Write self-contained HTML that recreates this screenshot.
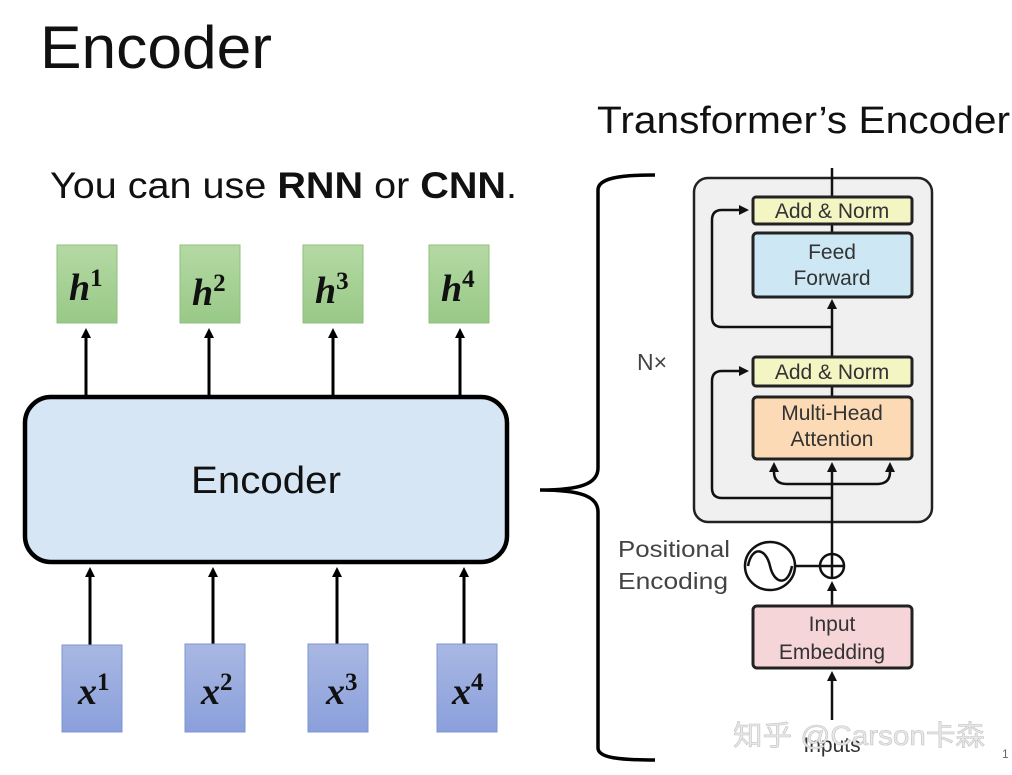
<!DOCTYPE html>
<html><head><meta charset="utf-8"><style>
html,body{margin:0;padding:0;background:#fff;}
svg{display:block;}
</style></head><body>
<svg width="1012" height="775" viewBox="0 0 1012 775" xmlns="http://www.w3.org/2000/svg" font-family="Liberation Sans, sans-serif">
<defs>
<marker id="a" markerWidth="10" markerHeight="10" refX="5" refY="5" orient="auto" markerUnits="userSpaceOnUse"><path d="M0,0 L10,5 L0,10 Z" fill="#000"/></marker>
<marker id="b" markerWidth="10" markerHeight="10" refX="5" refY="5" orient="auto" markerUnits="userSpaceOnUse"><path d="M0,0 L10,5 L0,10 Z" fill="#111"/></marker>
<linearGradient id="gx" x1="0" y1="0" x2="0" y2="1"><stop offset="0" stop-color="#a9b8e2"/><stop offset="1" stop-color="#8a9fdc"/></linearGradient>
<linearGradient id="gh" x1="0" y1="0" x2="0" y2="1"><stop offset="0" stop-color="#b5d9a4"/><stop offset="1" stop-color="#98c987"/></linearGradient>
</defs>
<text x="40" y="68" font-size="60" textLength="232" lengthAdjust="spacingAndGlyphs" fill="#111">Encoder</text>
<text x="597" y="133" font-size="38" textLength="413" lengthAdjust="spacingAndGlyphs" fill="#111">Transformer’s Encoder</text>
<text x="50" y="198" font-size="37" textLength="467" lengthAdjust="spacingAndGlyphs" fill="#111">You can use <tspan font-weight="bold">RNN</tspan> or <tspan font-weight="bold">CNN</tspan>.</text>

<g stroke="#8fbf7c" stroke-width="1" fill="url(#gh)">
<rect x="57" y="245" width="60" height="78"/><rect x="180" y="245" width="60" height="78"/>
<rect x="303" y="245" width="60" height="78"/><rect x="429" y="245" width="60" height="78"/>
</g>
<g font-family="Liberation Serif, serif" font-style="italic" font-weight="bold" font-size="38" fill="#111">
<text x="69" y="300">h<tspan font-size="25" font-style="normal" dy="-14">1</tspan></text>
<text x="192" y="305">h<tspan font-size="25" font-style="normal" dy="-14">2</tspan></text>
<text x="315" y="303">h<tspan font-size="25" font-style="normal" dy="-14">3</tspan></text>
<text x="441" y="301">h<tspan font-size="25" font-style="normal" dy="-14">4</tspan></text>
</g>
<g stroke="#000" stroke-width="3" marker-end="url(#a)">
<line x1="86" y1="396" x2="86" y2="333"/><line x1="209" y1="396" x2="209" y2="333"/>
<line x1="333" y1="396" x2="333" y2="333"/><line x1="460" y1="396" x2="460" y2="333"/>
<line x1="90" y1="645" x2="90" y2="572"/><line x1="213" y1="645" x2="213" y2="572"/>
<line x1="337" y1="645" x2="337" y2="572"/><line x1="464" y1="645" x2="464" y2="572"/>
</g>
<rect x="25" y="397" width="482" height="165" rx="26" fill="#d6e6f5" stroke="#000" stroke-width="4.5"/>
<text x="266" y="493" font-size="38" text-anchor="middle" textLength="150" lengthAdjust="spacingAndGlyphs" fill="#111">Encoder</text>

<g stroke="#7f94d0" stroke-width="1" fill="url(#gx)">
<rect x="62" y="645" width="60" height="87"/><rect x="185" y="644" width="60" height="88"/>
<rect x="308" y="644" width="60" height="88"/><rect x="437" y="644" width="60" height="88"/>
</g>
<g font-family="Liberation Serif, serif" font-style="italic" font-weight="bold" font-size="38" fill="#111">
<text x="78" y="704">x<tspan font-size="25" font-style="normal" dy="-14">1</tspan></text>
<text x="201" y="704">x<tspan font-size="25" font-style="normal" dy="-14">2</tspan></text>
<text x="326" y="704">x<tspan font-size="25" font-style="normal" dy="-14">3</tspan></text>
<text x="452" y="704">x<tspan font-size="25" font-style="normal" dy="-14">4</tspan></text>
</g>

<path d="M655,175 C620,175 598,178 598,190 L598,468 C598,484 580,490 540,490 C580,490 598,496 598,512 L598,748 C598,758 620,760 655,760" fill="none" stroke="#000" stroke-width="3.5"/>

<rect x="694" y="178" width="238" height="344" rx="14" fill="#f0f0f0" stroke="#222" stroke-width="2.5"/>
<g stroke="#111" stroke-width="2.5" fill="none">
<line x1="832" y1="168" x2="832" y2="197"/>
<line x1="832" y1="224" x2="832" y2="233"/>
<line x1="832" y1="386" x2="832" y2="397"/>
<line x1="832" y1="554" x2="832" y2="467" marker-end="url(#b)"/>
<line x1="832" y1="357" x2="832" y2="304" marker-end="url(#b)"/>
<path d="M832,327 L722,327 Q712,327 712,317 L712,220 Q712,210 722,210 L744,210" marker-end="url(#b)"/>
<path d="M832,498 L722,498 Q712,498 712,488 L712,381 Q712,371 722,371 L744,371" marker-end="url(#b)"/>
<path d="M832,484 L787,484 Q774,484 774,472 L774,467" marker-end="url(#b)"/>
<path d="M832,484 L877,484 Q890,484 890,472 L890,467" marker-end="url(#b)"/>
<line x1="832" y1="606" x2="832" y2="586" marker-end="url(#b)"/>
<line x1="832" y1="720" x2="832" y2="676" marker-end="url(#b)"/>
<line x1="795" y1="566" x2="820" y2="566"/>
<circle cx="832" cy="566" r="12"/>
<line x1="820" y1="566" x2="844" y2="566"/><line x1="832" y1="554" x2="832" y2="578"/>
<ellipse cx="770" cy="566" rx="25" ry="24"/>
<path d="M748,566 C752,545 766,548 770,566 C774,584 788,587 792,566"/>
</g>
<g stroke="#222" stroke-width="3">
<rect x="753" y="197" width="159" height="27" rx="3" fill="#f3f5c3"/>
<rect x="753" y="233" width="159" height="64" rx="4" fill="#cde8f4"/>
<rect x="753" y="357" width="159" height="29" rx="3" fill="#f3f5c3"/>
<rect x="753" y="397" width="159" height="62" rx="4" fill="#fbdab5"/>
<rect x="753" y="606" width="159" height="62" rx="4" fill="#f6d5d8"/>
</g>
<g font-size="21" fill="#333" text-anchor="middle">
<text x="832" y="218">Add &amp; Norm</text>
<text x="832" y="259">Feed</text><text x="832" y="285">Forward</text>
<text x="832" y="379">Add &amp; Norm</text>
<text x="832" y="420">Multi-Head</text><text x="832" y="446">Attention</text>
<text x="832" y="631">Input</text><text x="832" y="659">Embedding</text>
<text x="832" y="752">Inputs</text>
</g>
<g font-size="23" fill="#444">
<text x="637" y="370">N×</text>
<text x="618" y="557" textLength="112" lengthAdjust="spacingAndGlyphs">Positional</text>
<text x="618" y="589" textLength="110" lengthAdjust="spacingAndGlyphs">Encoding</text>
</g>
<text x="733" y="745" font-size="28" fill="#e8e8e8" stroke="#c4c4c4" stroke-width="0.6" font-family="Liberation Sans, Noto Sans CJK SC, sans-serif" textLength="252" lengthAdjust="spacingAndGlyphs">知乎 @Carson卡森</text>
<text x="1002" y="758" font-size="12" fill="#666">1</text>
</svg>
</body></html>
